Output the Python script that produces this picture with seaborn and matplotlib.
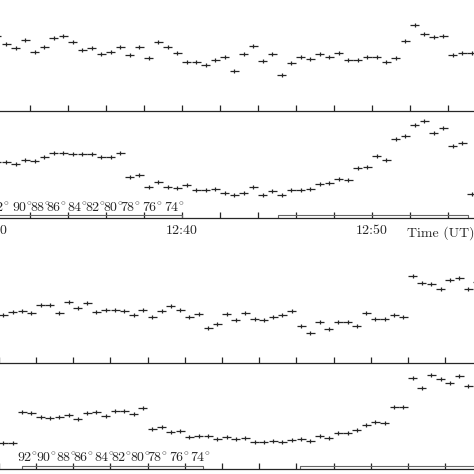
import matplotlib
matplotlib.use("Agg")
import matplotlib.pyplot as plt
import matplotlib.transforms as mtransforms
from matplotlib.ticker import FuncFormatter, MultipleLocator
import numpy as np
import seaborn as sns

# 30 s time bins, minutes after 12:00 UT
T_UPPER = 30.25 + 0.5 * np.arange(51)
T_LOWER = 30.25 + 0.5 * np.arange(52)

# (a) upper pair of panels, arbitrary units
A_TOP = [75, 67, 63, 71, 59, 64, 73, 75, 69, 61, 63, 57, 59, 64, 56, 64, 53,
         69, 64, 58, 49, 49, 46, 51, 54, 40, 57, 65, 50, 57, 36, 48, 54, 52,
         57, 54, 58, 51, 51, 54, 54, 49, 53, 70, 86, 77, 74, 75, 56, 58, 58]
A_BOT = [56, 56, 54, 58, 57, 61, 65, 65, 64, 64, 64, 61, 61, 65, 41, 43, 31,
         36, 31, 30, 33, 28, 28, 29, 25, 23, 25, 31, 23, 27, 23, 28, 28, 29,
         34, 35, 39, 38, 50, 51, 62, 58, 79, 82, 93, 97, 85, 90, 72, 75, 24]

# (b) lower pair of panels
B_TOP = [48, 51, 52, 50, 58, 58, 50, 61, 55, 60, 51, 53, 53, 52, 48, 53, 46,
         52, 57, 53, 46, 49, 35, 39, 49, 43, 50, 44, 43, 46, 48, 52, 37, 30,
         41, 34, 41, 41, 37, 50, 44, 44, 48, 46, 87, 80, 79, 74, 83, 85, 74, 81]
B_BOT = [26, 26, 57, 56, 52, 51, 52, 54, 50, 56, 57, 53, 58, 58, 55, 61, 40,
         42, 37, 38, 32, 33, 33, 30, 32, 30, 31, 27, 27, 28, 27, 29, 30, 28,
         33, 31, 36, 36, 39, 44, 47, 46, 62, 62, 91, 81, 94, 90, 86, 93, 83, np.nan]

# elevation angle marks (time at which each angle is reached)
ANGLES = [92, 90, 88, 86, 84, 82, 80, 78, 76, 74]
A_ANG_T1 = [30.37, 31.58, 32.53, 33.37, 34.47, 35.42, 36.37, 37.26, 38.42, 39.58]
A_ANG_T2 = [45.53, 46.53, 47.58, 48.37, 49.47, 50.32, 51.26, 52.16, 53.37, 54.53]
B_ANG_T1 = [31.52, 32.54, 33.61, 34.53, 35.66, 36.57, 37.59, 38.51, 39.69, 40.82]
B_ANG_T2 = [46.25, 47.27, 48.29, 49.15, 50.28, 51.14, 52.16, 53.08, 54.37, 55.55]
A_SPANS = [(30.0, 40.0), (45.05, 55.05)]
B_SPANS = [(31.25, 40.98), (46.19, 56.2)]

W = 474
INK = "#262626"

sns.set_theme(style="ticks")
plt.rcParams.update({
    "font.family": "cmr10",
    "mathtext.fontset": "cm",
    "axes.formatter.use_mathtext": True,
    "axes.edgecolor": INK,
    "axes.linewidth": 0.9,
    "xtick.color": INK,
})

fig = plt.figure(figsize=(4.74, 4.74), dpi=100)


def add_panel(top_px, bottom_px, t0_px, px_per_min, t0):
    # axes runs a bit wider than the picture so the edges are cut like the original
    left_px, right_px = -60, W + 60
    ax = fig.add_axes([left_px / W, 1 - bottom_px / W,
                       (right_px - left_px) / W, (bottom_px - top_px) / W])
    ax.set_xlim(t0 + (left_px - t0_px) / px_per_min, t0 + (right_px - t0_px) / px_per_min)
    ax.set_ylim(0, bottom_px - top_px)
    ax.set_facecolor("none")
    for s in ["left", "right", "top"]:
        ax.spines[s].set_visible(False)
    ax.set_yticks([])
    ax.xaxis.set_major_locator(MultipleLocator(2))
    ax.tick_params(axis="x", direction="in", length=4, width=0.9, pad=5,
                   labelsize=10, labelbottom=False)
    ax.grid(False)
    return ax


def draw_points(ax, t, vals):
    ax.errorbar(t, vals, xerr=0.24, yerr=2.3, fmt="none", ecolor=INK,
                elinewidth=0.9, capsize=0)


def draw_angles(ax, times, spans, yfrac):
    trans = mtransforms.blended_transform_factory(ax.transData, ax.transAxes)
    for ang, t in zip(ANGLES, times):
        ax.text(t, yfrac, rf"${ang}^{{\circ}}$", transform=trans, ha="center",
                va="baseline", fontsize=10, color=INK)
    for a, b in spans:
        ax.plot([a, a, b, b], [0, 0.025, 0.025, 0], transform=trans,
                color="#666666", lw=0.8, clip_on=False)


ax1 = add_panel(-20, 111, 182, 19, 40)
ax2 = add_panel(111, 218, 182, 19, 40)
ax3 = add_panel(240, 363, 36, 18.6, 32)
ax4 = add_panel(363, 469, 36, 18.6, 32)

draw_points(ax1, T_UPPER, A_TOP)
draw_points(ax2, T_UPPER, A_BOT)
draw_points(ax3, T_LOWER, B_TOP)
draw_points(ax4, T_LOWER, B_BOT)

draw_angles(ax2, A_ANG_T1 + A_ANG_T2, A_SPANS, 0.06)
draw_angles(ax4, B_ANG_T1 + B_ANG_T2, B_SPANS, 0.07)

ax2.tick_params(axis="x", labelbottom=True)
ax2.xaxis.set_major_formatter(FuncFormatter(
    lambda t, pos: f"12:{int(round(t)):02d}" if round(t) % 10 == 0 else ""))

fig.text(407 / W, 1 - 233 / W, "Time (UT)", ha="left", va="center",
         fontsize=10, color=INK)

fig.savefig("out.png", dpi=100)
